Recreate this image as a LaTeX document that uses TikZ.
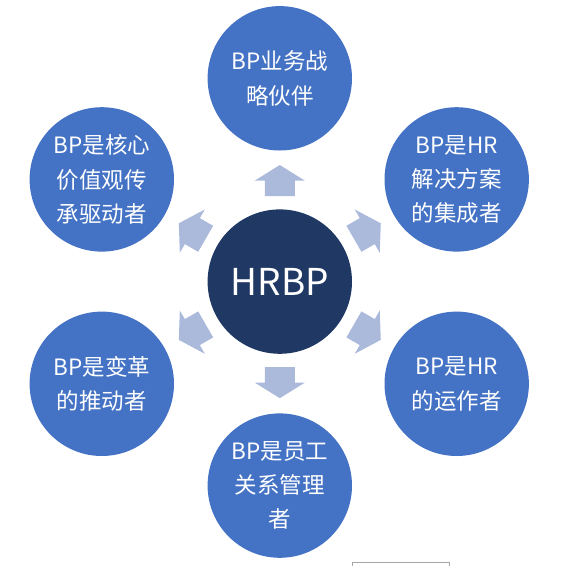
\documentclass[tikz,border=0pt]{standalone}
\usepackage{fontspec}
\setmainfont{Noto Sans CJK SC}
\definecolor{outerblue}{HTML}{4472C4}
\definecolor{centernavy}{HTML}{203864}
\definecolor{arrowblue}{HTML}{ABB9DB}
\begin{document}
\begin{tikzpicture}[x=1pt,y=-1pt,
  outercirc/.style={circle,fill=outerblue,minimum size=144.4pt,inner sep=0pt,text=white,align=center,
    font=\fontsize{22.5}{34.3}\selectfont},
  centercirc/.style={circle,fill=centernavy,minimum size=144.4pt,inner sep=0pt,text=white,
    font=\fontsize{37}{40}\selectfont},
  blockarrow/.style={fill=arrowblue}]
\useasboundingbox (0,0) rectangle (564,566);
\node[centercirc] (hrbp) at (279.8,281.6) {HRBP};
\node[outercirc] (top) at (279.8,78.3) {BP业务战\\略伙伴};
\node[outercirc] (tl) at (101.8,179.4) {BP是核心\\价值观传\\承驱动者};
\node[outercirc] (tr) at (456.7,179.4) {BP是HR\\解决方案\\的集成者};
\node[outercirc] (bl) at (101.8,383.8) {BP是变革\\的推动者};
\node[outercirc] (br) at (456.7,383.8) {BP是HR\\的运作者};
\node[outercirc] (bot) at (279.8,485.6) {BP是员工\\关系管理\\者};
\foreach \ang in {-90,-30,30,90,150,210}{
  \begin{scope}[shift={(hrbp.center)},rotate=\ang]
    \fill[blockarrow] (85.6,-15) -- (101,-15) -- (101,-25) -- (116.6,0) -- (101,25) -- (101,15) -- (85.6,15) -- cycle;
  \end{scope}
}
\draw[gray!70,line width=0.8pt] (352,566) -- (352,562.5) -- (449,562.5) -- (449,566);
\end{tikzpicture}
\end{document}
